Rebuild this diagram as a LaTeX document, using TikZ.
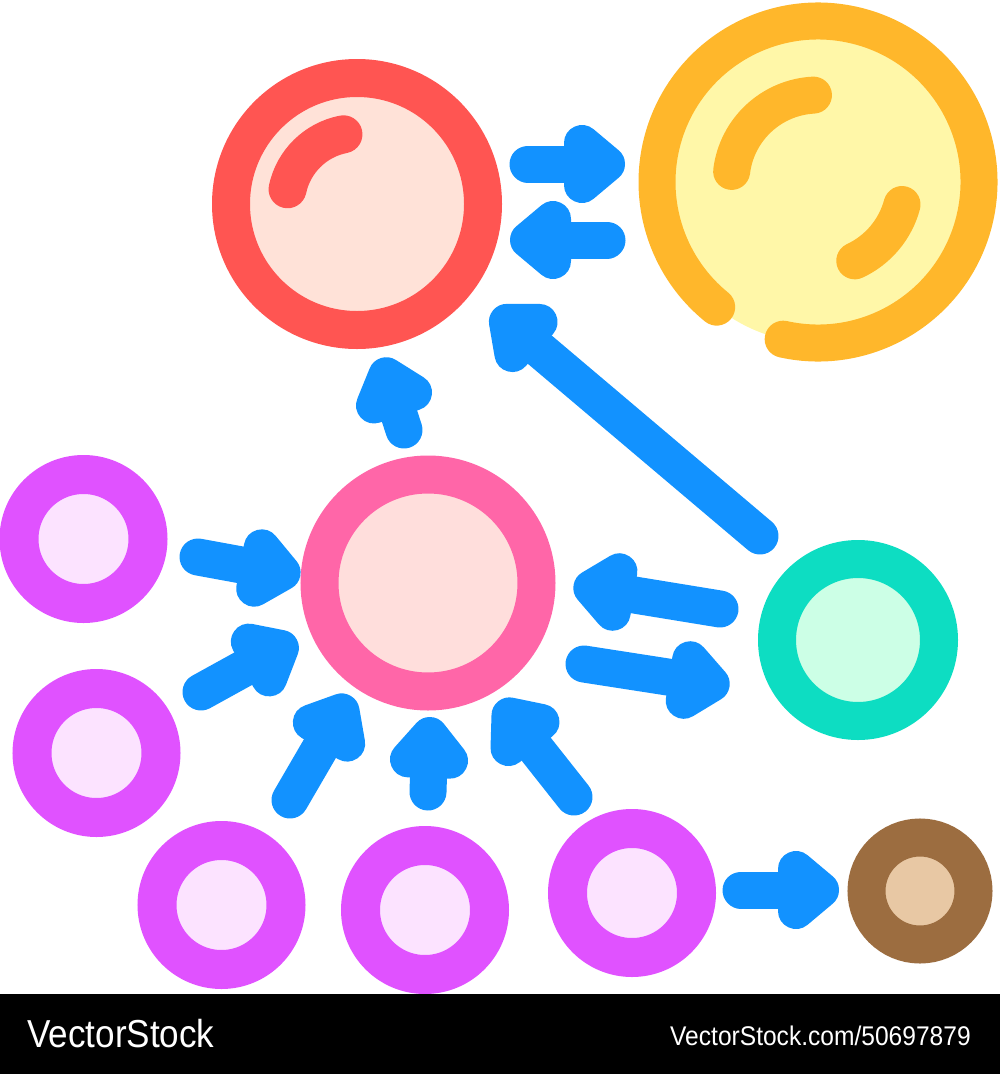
\documentclass[tikz,border=0pt]{standalone}
\usepackage{fontspec}
\usepackage{graphicx}
\usetikzlibrary{calc}
\newfontfamily\stockfont{Liberation Sans}

\definecolor{arrowblue}{RGB}{18,146,255}
\definecolor{redring}{RGB}{255,85,82}
\definecolor{redfill}{RGB}{255,226,216}
\definecolor{yellowring}{RGB}{255,183,43}
\definecolor{yellowfill}{RGB}{255,247,168}
\definecolor{pinkring}{RGB}{255,102,168}
\definecolor{pinkfill}{RGB}{255,222,220}
\definecolor{tealring}{RGB}{13,221,194}
\definecolor{tealfill}{RGB}{204,255,230}
\definecolor{purplering}{RGB}{224,82,255}
\definecolor{purplefill}{RGB}{252,227,255}
\definecolor{brownring}{RGB}{156,109,64}
\definecolor{brownfill}{RGB}{232,200,164}

\tikzset{
  cell/.style={circle,inner sep=0pt,outer sep=0pt,line width=38pt},
  smallcell/.style={cell,draw=purplering,fill=purplefill,line width=39pt,minimum size=129pt},
  shaft/.style={arrowblue,line width=37pt,line cap=round},
  headtri/.style={fill=arrowblue,draw=arrowblue,line width=36pt,line join=round},
  gloss/.style={line width=37pt,line cap=round},
  stocktext/.style={anchor=base west,inner sep=0pt,text=white}
}
% arrow from tail #1 to base #2 of the head
\newcommand{\cellarrow}[2]{%
  \draw[shaft] (#1) -- (#2);
  \filldraw[headtri] ($(#2)!21pt!90:(#1)$) -- ($(#2)!-25pt!(#1)$) -- ($(#2)!21pt!-90:(#1)$) -- cycle;
}

\begin{document}
\begin{tikzpicture}[x=1pt,y=-1pt]
  \useasboundingbox (0,0) rectangle (1000,1074);

  \node[cell,draw=redring,fill=redfill,minimum size=252pt] (red) at (357,204) {};
  \draw[gloss,redring,line width=38pt] (red.center) ++(-168:71) arc (-168:-101:71);

  \node[circle,inner sep=0pt,fill=yellowfill,minimum size=322pt] (yellow) at (818,182) {};
  \draw[gloss,yellowring] (yellow.center) ++(102.5:161) arc (102.5:-231:161);
  \draw[gloss,yellowring] (yellow.center) ++(-173:87) arc (-173:-93:87);
  \draw[gloss,yellowring] (yellow.center) ++(15:87) arc (15:65:87);

  \node[cell,draw=pinkring,fill=pinkfill,minimum size=217pt] (pink) at (428,583) {};
  \node[cell,draw=tealring,fill=tealfill,minimum size=162pt] (teal) at (858,640) {};
  \node[cell,draw=brownring,fill=brownfill,minimum size=107pt] (brown) at (920,891) {};

  \node[smallcell] (purple1) at (83.5,539) {};
  \node[smallcell] (purple2) at (96.5,753) {};
  \node[smallcell] (purple3) at (221.5,905) {};
  \node[smallcell] (purple4) at (425,910) {};
  \node[smallcell] (purple5) at (632,893) {};

  \coordinate (r2y-tail) at (528,164);
  \coordinate (r2y-base) at (582,164);
  \coordinate (y2r-tail) at (607,240);
  \coordinate (y2r-base) at (553,240);
  \coordinate (t2r-tail) at (760,536);
  \coordinate (t2r-base) at (526,338);
  \coordinate (p2r-tail) at (404,430);
  \coordinate (p2r-base) at (394,399);
  \coordinate (t2p-tail) at (720,609);
  \coordinate (t2p-base) at (616,592);
  \coordinate (p2t-tail) at (584,664);
  \coordinate (p2t-base) at (687,680);
  \coordinate (u1-tail) at (198,557);
  \coordinate (u1-base) at (258,568);
  \coordinate (u2-tail) at (201,692);
  \coordinate (u2-base) at (259,660);
  \coordinate (u3-tail) at (290,800);
  \coordinate (u3-base) at (329,733);
  \coordinate (u4-tail) at (428,792);
  \coordinate (u4-base) at (429,760);
  \coordinate (u5-tail) at (574,797);
  \coordinate (u5-base) at (525,735);
  \coordinate (u2b-tail) at (741,890);
  \coordinate (u2b-base) at (796,890);

  \cellarrow{r2y-tail}{r2y-base}
  \cellarrow{y2r-tail}{y2r-base}
  \cellarrow{t2r-tail}{t2r-base}
  \cellarrow{p2r-tail}{p2r-base}
  \cellarrow{t2p-tail}{t2p-base}
  \cellarrow{p2t-tail}{p2t-base}
  \cellarrow{u1-tail}{u1-base}
  \cellarrow{u2-tail}{u2-base}
  \cellarrow{u3-tail}{u3-base}
  \cellarrow{u4-tail}{u4-base}
  \cellarrow{u5-tail}{u5-base}
  \cellarrow{u2b-tail}{u2b-base}

  % stock banner
  \fill[black] (0,994) rectangle (1000,1074);
  \node[stocktext,font=\stockfont\fontsize{39}{39}\selectfont] (brand) at (27,1047) {\scalebox{0.9}[1]{VectorStock}};
  \node[stocktext,font=\stockfont\fontsize{27}{27}\selectfont] (stockid) at (670,1045) {\scalebox{0.91}[1]{VectorStock.com/50697879}};
\end{tikzpicture}
\end{document}
